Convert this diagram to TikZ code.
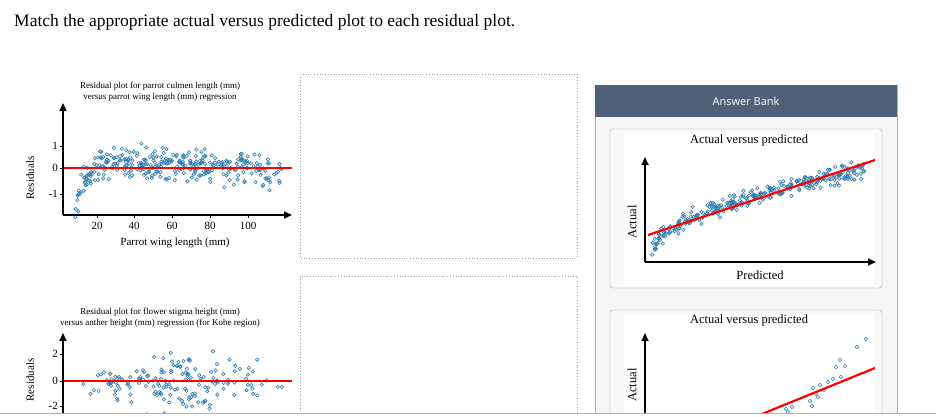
\documentclass[tikz,border=0pt]{standalone}
\usepackage{fontspec}
\setmainfont{Liberation Serif}
\newfontfamily\uisans{Open Sans}
\usetikzlibrary{arrows.meta}
\definecolor{dotc}{HTML}{2E7DB0}
\definecolor{hdr}{HTML}{4F6179}
\tikzset{
  pt/.style={draw=dotc,line width=0.6pt},
  axis/.style={line width=1.6pt,-{Triangle[length=8pt,width=7pt]}},
  fit/.style={red,line width=2.2pt},
  lab/.style={font=\fontsize{11}{12}\selectfont,inner sep=0},
  clab/.style={font=\fontsize{12.5}{14}\selectfont,inner sep=0},
  small/.style={font=\fontsize{9}{11}\selectfont,inner sep=0,align=center},
  dropbox/.style={draw=gray!70,dotted,line width=0.8pt},
}
\begin{document}
\begin{tikzpicture}[x=1pt,y=-1pt]
\useasboundingbox (0,0) rectangle (936,416);
\fill[white] (0,0) rectangle (936,416);
\begin{scope}
\clip (0,0) rectangle (936,413);
\node[anchor=west,inner sep=0,font=\fontsize{17.5}{20}\selectfont] (title) at (14,22) {Match the appropriate actual versus predicted plot to each residual plot.};

% ---------- residual plot 1
\node[small] (t1) at (160,92) {Residual plot for parrot culmen length (mm)\\versus parrot wing length (mm) regression};
\coordinate (o1) at (63,215);
\coordinate (y1) at (63,103);
\coordinate (x1) at (292,215);
\pgfmathsetseed{7}
\foreach \i in {1,...,330}{
  \pgfmathsetmacro{\xv}{8+110*rnd}
  \pgfmathsetmacro{\m}{-1.7*exp(-(\xv-8)/5)+0.2-0.00012*(\xv-60)*(\xv-60)}
  \pgfmathsetmacro{\r}{\m+1.3*(rnd+rnd-1)*(0.4+0.5*rnd)}
  \draw[pt] ({59.25+1.8875*\xv},{168-23*\r}) circle (1.7);
}
\draw[fit] (64,168) -- (292,168);
\draw[axis] (o1) -- (y1);
\draw[axis] (o1) -- (x1);
\foreach \v/\yy in {1/146,0/168,-1/194}{
  \draw[line width=0.5pt] (60,\yy) -- (63,\yy);
  \node[lab,anchor=east] at (58,\yy) {\v};
}
\foreach \v/\xx in {20/97,40/134,60/172,80/210,100/248}{
  \draw[line width=0.5pt] (\xx,215) -- (\xx,218);
  \node[lab] at (\xx,226) {\v};
}
\node[lab] (xl1) at (175,243) {Parrot wing length (mm)};
\node[lab,rotate=90] (yl1) at (30,178) {Residuals};

% ---------- residual plot 2
\node[small] (t2) at (160,318) {Residual plot for flower stigma height (mm)\\versus anther height (mm) regression (for Kobe region)};
\coordinate (o2) at (63,430);
\coordinate (y2) at (63,333);
\pgfmathsetseed{11}
\foreach \i in {1,...,170}{
  \pgfmathsetmacro{\xv}{70+220*(0.5*rnd+0.5*rnd)}
  \pgfmathsetmacro{\r}{2.2*(rnd+rnd+rnd-1.5)*(1.2-abs(\xv-180)/150)}
  \draw[pt] (\xv,{381-13*\r}) circle (1.7);
}
\draw[fit] (64,381) -- (292,381);
\draw[axis] (o2) -- (y2);
\foreach \v/\yy in {2/354,0/381,-2/406}{
  \draw[line width=0.5pt] (60,\yy) -- (63,\yy);
  \node[lab,anchor=east] at (58,\yy) {\v};
}
\node[lab,rotate=90] (yl2) at (30,380) {Residuals};

% ---------- drop boxes
\draw[dropbox] (300,74) rectangle (577,258);
\draw[dropbox] (300,276) rectangle (577,430);

% ---------- answer bank
\draw[gray!60,fill=gray!8] (595,85) rectangle (897,430);
\fill[hdr] (595,85) rectangle (897,117);
\node[text=white,font=\uisans\fontsize{11}{13}\selectfont] (ab) at (746,101) {Answer Bank};

% card 1
\draw[gray!70,fill=gray!5,rounded corners=3pt] (610,129) rectangle (882,288);
\fill[white] (624,133) rectangle (874,286);
\node[clab] (c1t) at (749,140) {Actual versus predicted};
\pgfmathsetseed{5}
\foreach \i in {1,...,300}{
  \pgfmathsetmacro{\u}{rnd}
  \pgfmathsetmacro{\xv}{652+213*\u}
  \pgfmathsetmacro{\yv}{254-84*sqrt(\u)+8*(rnd+rnd-1)*(1+0.6*rnd)}
  \draw[pt] (\xv,\yv) circle (1.7);
}
\draw[fit] (648,235) -- (875,160);
\draw[axis] (645,262) -- (645,157);
\draw[axis] (645,262) -- (876,262);
\node[clab,rotate=90] (c1y) at (632,222) {Actual};
\node[clab] (c1x) at (760,275) {Predicted};

% card 2
\draw[gray!70,fill=gray!5,rounded corners=3pt] (610,310) rectangle (882,440);
\fill[white] (624,314) rectangle (874,440);
\node[clab] (c2t) at (749,320) {Actual versus predicted};
\foreach \xv/\yv in {866/339,857/347,840/360,836/367,841/377,833/379,828/382,820/385,813/388,816/394,818/397,810/401,812/406,792/407,786/409,788/412,845/366,824/390}{
  \draw[pt] (\xv,\yv) circle (1.7);
}
\draw[fit] (752,418) -- (875,368);
\draw[axis] (645,430) -- (645,333);
\node[clab,rotate=90] (c2y) at (632,385) {Actual};
\end{scope}
\draw[gray!60,line width=1pt] (0,413.5) -- (936,413.5);
\end{tikzpicture}
\end{document}
